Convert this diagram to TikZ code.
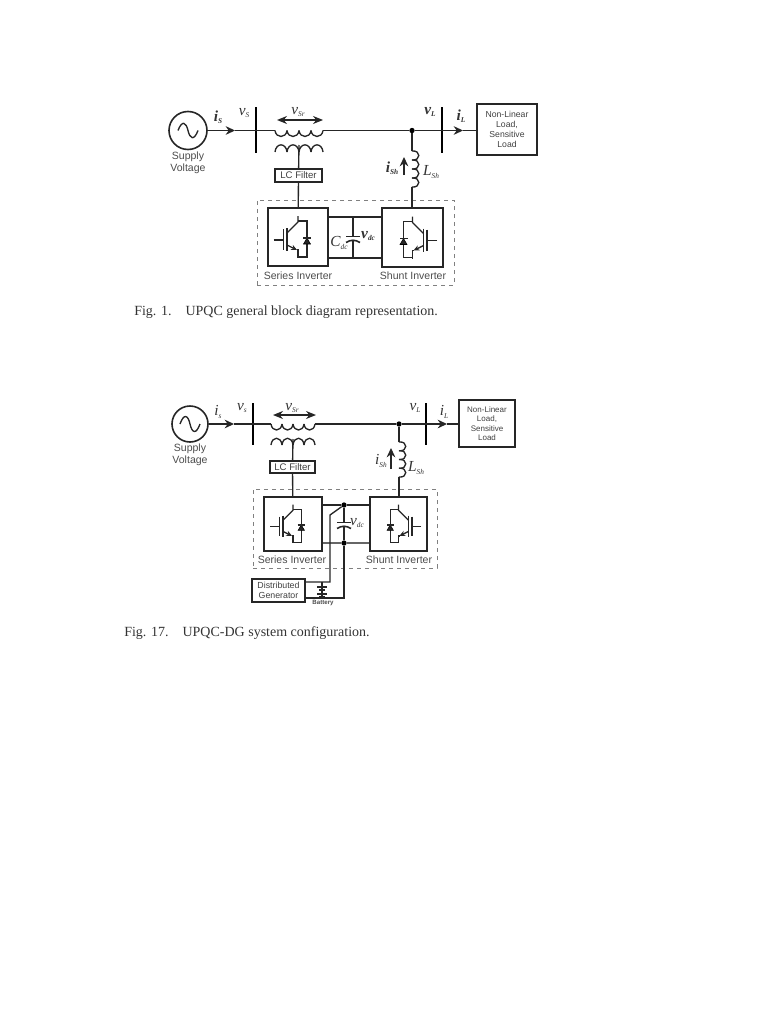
\documentclass[tikz,border=0pt]{standalone}
\usepackage{fontspec}
\setmainfont{Liberation Serif}
\setsansfont{Liberation Sans}
\usetikzlibrary{arrows.meta}
\newcommand{\lbl}[2]{\textit{#1}\raisebox{-0.35ex}{\fontsize{5.5}{6}\selectfont\textit{#2}}}
\tikzset{
    wire/.style={draw=black!85, line width=1pt},
    flow/.style={-{Stealth[length=7pt,width=6.5pt]}},
    twoway/.style={{Stealth[length=7.5pt,width=6pt]}-{Stealth[length=7.5pt,width=6pt]}},
    busbar/.style={draw=black, line width=2.2pt},
    block/.style={draw=black!85, line width=1.1pt, inner sep=0pt, font=\sffamily\fontsize{7.2}{9}\selectfont, text=black!75, align=center},
    frame/.style={draw=black!50, dashed, line width=0.6pt, inner sep=0pt},
    tag/.style={font=\sffamily\fontsize{7.9}{9}\selectfont, text=black!70, align=center, inner sep=0pt},
    sym/.style={font=\fontsize{11.5}{12}\selectfont, text=black!80, inner sep=0pt},
    junction/.style={circle, fill=black, inner sep=0pt, minimum size=4pt},
    figtext/.style={anchor=west, font=\fontsize{10.5}{12}\selectfont, text=black!80, inner sep=0pt},
    pics/igbt/.style={code={
        \draw[wire] (-24.5,3)--(-14.5,3) (-14.5,-8)--(-14.5,13);
        \draw[wire,line width=1.3pt] (-11,-9)--(-11,14);
        \draw[wire] (-11,-4)--(0,-15)--(0,-21);
        \draw[wire,-{Stealth[length=4.5pt,width=4pt]}] (-11,8)--(-1,13);
        \draw[wire] (-1,13)--(0,13)--(0,21);
        \draw[wire] (0,-16)--(9,-16)--(9,20)--(0,20);
        \draw[fill=black!85] (9,1)--(5.5,7)--(12.5,7)--cycle;
        \draw[wire] (5,1)--(13,1);
    }},
    pics/winding/.style={code={
        \foreach \k in {0,12,24,36}
            \draw[wire] (\k,0) .. controls (\k+1,#1) and (\k+11,#1) .. (\k+12,0);
    }},
    pics/choke/.style={code={
        \foreach \k in {0,1,2,3}
            \draw[wire] (0,\k*#1) .. controls (9,\k*#1-1) and (9,\k*#1+#1+1) .. (0,\k*#1+#1);
    }},
    pics/plates/.style={code={
        \draw[wire,line width=1.2pt] (-7,-2.5)--(7,-2.5);
        \draw[wire,line width=1.2pt] (-7,3.5) .. controls (-2,0.5) and (2,0.5) .. (7,3.5);
    }}
}
\begin{document}
\begin{tikzpicture}[x=0.75pt,y=-0.75pt]
    \useasboundingbox (0,0) rectangle (768,1024);

    % first figure
    \node[circle, draw=black!85, line width=1.2pt, minimum size=28.5pt, inner sep=0pt] (srcA) at (188,130.5) {};
    \draw[wire] (178,130.5) .. controls (182,120) and (186,122) .. (188,130.5) .. controls (190,139) and (194,141) .. (198,130.5);
    \node[tag] (supplyA) at (188,162.5) {Supply\\Voltage};
    \coordinate (busAt) at (256,107);
    \coordinate (busAb) at (256,153);
    \draw[busbar] (busAt) -- (busAb);
    \coordinate (arrA) at (235,130.5);
    \coordinate (busAm) at (256,130.5);
    \coordinate (xfAl) at (275,130.5);
    \coordinate (xfAr) at (323,130.5);
    \coordinate (xfBl) at (275,152);
    \coordinate (xfBm) at (299,145);
    \draw[wire,flow] (srcA) -- (arrA);
    \draw[wire] (arrA) -- (busAm) -- (xfAl);
    \pic at (xfAl) {winding=8};
    \pic at (xfBl) {winding=-9.5};
    \node[block, minimum width=35.25pt, minimum height=9.75pt] (lcA) at (298.5,175.5) {LC Filter};
    \node[block, minimum width=45pt, minimum height=38.25pt, line width=1.4pt, font=\sffamily\fontsize{6.5}{7.3}\selectfont] (loadA) at (507,129.5) {Non-Linear\\Load,\\Sensitive\\Load};
    \node[junction] (jA) at (412,130.5) {};
    \coordinate (busBt) at (442,107);
    \coordinate (busBb) at (442,153);
    \draw[busbar] (busBt) -- (busBb);
    \coordinate (arrB) at (463,130.5);
    \draw[wire] (xfAr) -- (jA) -- (442,130.5);
    \draw[wire,flow] (442,130.5) -- (arrB);
    \draw[wire] (arrB) -- (loadA.west |- arrB);

    \node[frame, minimum width=147.75pt, minimum height=63.75pt] (dashA) at (355.5,242.5) {};
    \node[block, minimum width=45pt, minimum height=43.5pt] (seriesA) at (298,237) {};
    \node[block, minimum width=45.75pt, minimum height=44.25pt] (shuntA) at (412.5,237.5) {};
    \pic at (seriesA) {igbt};
    \pic[xscale=-1] at (shuntA) {igbt};
    \draw[wire] (xfBm) -- (lcA);
    \draw[wire] (lcA) -- (seriesA);
    \coordinate (chAt) at (412,151);
    \coordinate (chAb) at (412,187);
    \draw[wire] (jA) -- (chAt);
    \pic at (chAt) {choke=9};
    \draw[wire] (chAb) -- (shuntA.north -| chAb);
    \coordinate (capAt) at (353,217);
    \coordinate (capAb) at (353,258);
    \coordinate (capAu) at (353,236.5);
    \coordinate (capAd) at (353,240.5);
    \draw[wire] (seriesA.east |- capAt) -- (capAt) -- (shuntA.west |- capAt);
    \draw[wire] (seriesA.east |- capAb) -- (capAb) -- (shuntA.west |- capAb);
    \draw[wire] (capAt) -- (capAu) (capAd) -- (capAb);
    \pic at (353,239) {plates};
    \coordinate (iShAb) at (404,175);
    \coordinate (iShAt) at (404,157);
    \draw[wire,flow] (iShAb) -- (iShAt);
    \coordinate (vsrAl) at (277,120);
    \coordinate (vsrAr) at (323,120);
    \draw[wire,twoway] (vsrAl) -- (vsrAr);

    \node[sym] (isA) at (218,117) {\textbf{\lbl{i}{S}}};
    \node[sym] (vsA) at (244,113) {\lbl{v}{S}};
    \node[sym] (vsrA) at (298,112) {\lbl{v}{Sr}};
    \node[sym] (vlA) at (430,112) {\textbf{\lbl{v}{L}}};
    \node[sym] (ilA) at (461,116) {\textbf{\lbl{i}{L}}};
    \node[sym] (ishA) at (392,168) {\textbf{\lbl{i}{Sh}}};
    \node[sym] (lshA) at (431,172) {\lbl{L}{Sh}};
    \node[sym] (cdcA) at (339,243) {\lbl{C}{dc}};
    \node[sym] (vdcA) at (368,236) {\textbf{\lbl{v}{dc}}};
    \node[tag] (serlabA) at (298,276) {Series Inverter};
    \node[tag] (shlabA) at (413,276) {Shunt Inverter};
    \node[figtext] (figA) at (134,312) {Fig. 1.\hspace{1em}UPQC general block diagram representation.};

    % second figure
    \node[circle, draw=black!85, line width=1.2pt, minimum size=27pt, inner sep=0pt] (srcB) at (190,424) {};
    \draw[wire] (180,424) .. controls (184,413) and (188,415) .. (190,424) .. controls (192,433) and (196,435) .. (200,424);
    \node[tag] (supplyB) at (190,454.5) {Supply\\Voltage};
    \coordinate (busCt) at (253,403);
    \coordinate (busCb) at (253,445);
    \draw[busbar] (busCt) -- (busCb);
    \coordinate (arrC) at (234,424);
    \coordinate (xfCl) at (271,424);
    \coordinate (xfCr) at (315,424);
    \coordinate (xfDl) at (271,445);
    \coordinate (xfDm) at (293,439);
    \draw[wire,flow] (srcB) -- (arrC);
    \draw[wire] (arrC) -- (xfCl);
    \pic[xscale=0.917] at (xfCl) {winding=8};
    \pic[xscale=0.917] at (xfDl) {winding=-9};
    \node[block, minimum width=33.75pt, minimum height=9pt] (lcB) at (292.5,467) {LC Filter};
    \node[block, minimum width=42pt, minimum height=35.25pt, line width=1.4pt, font=\sffamily\fontsize{6}{7}\selectfont] (loadB) at (487,423.5) {Non-Linear\\Load,\\Sensitive\\Load};
    \node[junction] (jB) at (399,424) {};
    \coordinate (busDt) at (426,403);
    \coordinate (busDb) at (426,445);
    \draw[busbar] (busDt) -- (busDb);
    \coordinate (arrD) at (447,424);
    \draw[wire] (xfCr) -- (jB) -- (426,424);
    \draw[wire,flow] (426,424) -- (arrD);
    \draw[wire] (arrD) -- (loadB.west |- arrD);

    \node[frame, minimum width=138pt, minimum height=59.25pt] (dashB) at (345,528.5) {};
    \node[block, minimum width=43.5pt, minimum height=40.5pt] (seriesB) at (293,524) {};
    \node[block, minimum width=42.75pt, minimum height=40.5pt] (shuntB) at (398.5,524) {};
    \pic[scale=0.92] at (seriesB) {igbt};
    \pic[xscale=-0.92,yscale=0.92] at (shuntB) {igbt};
    \draw[wire] (xfDm) -- (lcB);
    \draw[wire] (lcB) -- (seriesB);
    \coordinate (chBt) at (399,442);
    \coordinate (chBb) at (399,477);
    \draw[wire] (jB) -- (chBt);
    \pic at (chBt) {choke=8.75};
    \draw[wire] (chBb) -- (shuntB.north -| chBb);
    \node[junction] (capBt) at (344,505) {};
    \node[junction] (capBb) at (344,543) {};
    \coordinate (capBu) at (344,522.5);
    \coordinate (capBd) at (344,526.5);
    \draw[wire] (seriesB.east |- capBt) -- (capBt) -- (shuntB.west |- capBt);
    \draw[wire,draw=black!60] (seriesB.east |- capBb) -- (capBb) -- (shuntB.west |- capBb);
    \draw[wire] (capBt) -- (capBu) (capBd) -- (capBb);
    \pic at (344,525) {plates};
    \coordinate (iShBb) at (391,469);
    \coordinate (iShBt) at (391,448);
    \draw[wire,flow] (iShBb) -- (iShBt);
    \coordinate (vsrBl) at (273,415);
    \coordinate (vsrBr) at (316,415);
    \draw[wire,twoway] (vsrBl) -- (vsrBr);

    \node[block, minimum width=39.75pt, minimum height=17.25pt, line width=1.3pt, font=\sffamily\fontsize{6.6}{8}\selectfont] (dgB) at (278.5,590.5) {Distributed\\Generator};
    \coordinate (dgBt) at (305,582);
    \coordinate (dgBb) at (305,598);
    \coordinate (swB) at (330,515);
    \coordinate (batBt) at (322,582);
    \coordinate (batBb) at (322,598);
    \draw[wire] (dgBt) -- (batBt) -- (330,582) -- (swB) -- (capBt);
    \draw[wire] (dgBb) -- (batBb) -- (344,598) -- (capBb);
    \draw[wire] (batBt) -- (batBb);
    \draw[wire] (317,587)--(327,587) (319,590)--(325,590) (317,594)--(327,594) (319,597)--(325,597);

    \node[sym] (isB) at (218,412) {\lbl{i}{s}};
    \node[sym] (vsB) at (242,408) {\lbl{v}{s}};
    \node[sym] (vsrB) at (292,408) {\lbl{v}{Sr}};
    \node[sym] (vlB) at (415,408) {\lbl{v}{L}};
    \node[sym] (ilB) at (444,412) {\lbl{i}{L}};
    \node[sym] (ishB) at (381,461) {\lbl{i}{Sh}};
    \node[sym] (lshB) at (416,468) {\lbl{L}{Sh}};
    \node[sym] (vdcB) at (357,523) {\lbl{v}{dc}};
    \node[tag] (serlabB) at (292,560) {Series Inverter};
    \node[tag] (shlabB) at (399,560) {Shunt Inverter};
    \node[tag, font=\sffamily\bfseries\fontsize{4.6}{5}\selectfont] (batlabB) at (323,603.5) {Battery};
    \node[figtext] (figB) at (124,633) {Fig. 17.\hspace{1em}UPQC-DG system configuration.};
\end{tikzpicture}
\end{document}
